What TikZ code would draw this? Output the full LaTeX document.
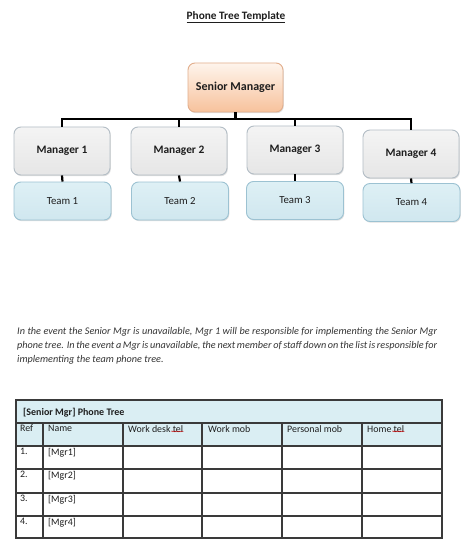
\documentclass[tikz,border=0pt]{standalone}
\usepackage{fontspec}
\setmainfont{Carlito}
\usetikzlibrary{shadows,decorations.pathmorphing}
\definecolor{smtop}{HTML}{FEF4EC}
\definecolor{smbot}{HTML}{F7C29C}
\definecolor{smline}{HTML}{E2AE8C}
\definecolor{mgtop}{HTML}{F4F4F4}
\definecolor{mgbot}{HTML}{E6E6E6}
\definecolor{mgline}{HTML}{B3BDC5}
\definecolor{tmtop}{HTML}{DEF0F5}
\definecolor{tmbot}{HTML}{D0E7EF}
\definecolor{tmline}{HTML}{9CC2D2}
\definecolor{hdrfill}{HTML}{DAEEF3}
\definecolor{tline}{HTML}{3A3A3A}
\definecolor{txt}{HTML}{1E1E1E}
\tikzset{
  box/.style={rectangle, rounded corners=7pt, line width=0.9pt, align=center,
    text=txt, drop shadow={shadow xshift=0.8pt, shadow yshift=-1.2pt, opacity=0.25}},
  smbox/.style={box, draw=smline, top color=smtop, bottom color=smbot,
    minimum width=95pt, minimum height=49pt, font=\bfseries\fontsize{12}{14}\selectfont},
  mgbox/.style={box, draw=mgline, top color=mgtop, bottom color=mgbot,
    minimum width=96pt, minimum height=48pt, font=\bfseries\fontsize{11.4}{13}\selectfont},
  tmbox/.style={box, draw=tmline, top color=tmtop, bottom color=tmbot,
    minimum width=97pt, minimum height=38pt, font=\fontsize{10.8}{12}\selectfont},
  conn/.style={draw=black, line width=2.2pt},
  cell/.style={anchor=north west, inner sep=0pt, text=txt, font=\fontsize{9.9}{11}\selectfont},
  squig/.style={draw=red!80!black, line width=0.4pt, decorate,
    decoration={snake, amplitude=0.5pt, segment length=2pt}}
}
\begin{document}
\begin{tikzpicture}[x=1pt,y=-1pt]
\useasboundingbox[fill=white] (0,0) rectangle (474,559);
% title
\node[font=\bfseries\fontsize{11.3}{13}\selectfont, text=txt] (title) at (236,17) {\underline{Phone Tree Template}};
% tree
\node[smbox] (sm) at (235.5,87.5) {Senior Manager};
\node[mgbox] (m1) at (62,151) {Manager 1};
\node[mgbox] (m2) at (179,151) {Manager 2};
\node[mgbox] (m3) at (295,150) {Manager 3};
\node[mgbox] (m4) at (411,154) {Manager 4};
\node[tmbox] (t1) at (62.5,201) {Team 1};
\node[tmbox] (t2) at (180,201) {Team 2};
\node[tmbox] (t3) at (295,200.5) {Team 3};
\node[tmbox] (t4) at (411.5,202.5) {Team 4};
\coordinate (bus) at (235.5,119);
\draw[conn] (sm.south) -- (bus);
\draw[conn] (m1.north) |- (bus) -| (m4.north);
\draw[conn] (m2.north) -- (m2.north |- bus);
\draw[conn] (m3.north) -- (m3.north |- bus);
\draw[conn] (m1.south) -- (t1.north);
\draw[conn] (m2.south) -- (t2.north);
\draw[conn] (m3.south) -- (t3.north);
\draw[conn] (m4.south) -- (t4.north);
% paragraph
\node[anchor=north west, inner sep=0pt, align=left, text=txt!90,
  font=\itshape\fontsize{10.2}{14.2}\selectfont] (para) at (17,327)
  {\makebox[420pt][s]{In the event the Senior Mgr is unavailable, Mgr 1 will be responsible for implementing the Senior Mgr}\\
   \makebox[420pt][s]{phone tree. In the event a Mgr is unavailable, the next member of staff down on the list is responsible for}\\
   implementing the team phone tree.};
% table
\fill[hdrfill] (16,400) rectangle (442,446);
\draw[tline, line width=1.2pt] (16,400) rectangle (442,538);
\foreach \yy in {423,446,469,493,516} \draw[tline, line width=1.1pt] (16,\yy) -- (442,\yy);
\foreach \xx in {43,123,202,282,362} \draw[tline, line width=1.1pt] (\xx,423) -- (\xx,538);
\node[cell, font=\bfseries\fontsize{10}{11}\selectfont] (thd) at (23,407.5) {[Senior Mgr] Phone Tree};
\node[cell] (hRef) at (20,425) {Ref};
\node[cell] (hName) at (48,425) {Name};
\node[cell] (hWdt) at (128,425) {Work desk tel};
\node[cell] (hWm) at (208,425) {Work mob};
\node[cell] (hPm) at (287,425) {Personal mob};
\node[cell] (hHt) at (367,425) {Home tel};
\node[cell] (r1) at (20,448) {1.};
\node[cell] (n1) at (48,448) {[Mgr1]};
\node[cell] (r2) at (20,471) {2.};
\node[cell] (n2) at (48,471) {[Mgr2]};
\node[cell] (r3) at (20,495) {3.};
\node[cell] (n3) at (48,495) {[Mgr3]};
\node[cell] (r4) at (20,518) {4.};
\node[cell] (n4) at (48,518) {[Mgr4]};
\draw[squig] ([xshift=-12pt,yshift=1pt]hWdt.south east) -- ([yshift=1pt]hWdt.south east);
\draw[squig] ([xshift=-12pt,yshift=1pt]hHt.south east) -- ([yshift=1pt]hHt.south east);
\end{tikzpicture}
\end{document}
